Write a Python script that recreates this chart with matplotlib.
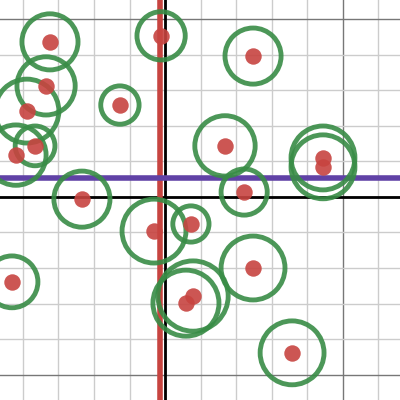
import matplotlib
matplotlib.use("Agg")
import matplotlib.pyplot as plt
from matplotlib.patches import Circle
import numpy as np

px = 35.5
xs = [-3.24,-0.11,2.48,-3.35,-3.89,-1.27,-3.66,-4.2,1.69,4.45,4.45,2.23,-2.34,-0.31,0.73,-4.31,2.48,0.79,0.59,3.58]
ys = [4.37,4.54,3.97,3.13,2.42,2.59,1.44,1.18,1.44,1.10,0.85,0.14,-0.06,-0.96,-0.76,-2.39,-2.0,-2.79,-2.99,-4.39]
radii = [0.79,0.68,0.79,0.82,0.9,0.54,0.56,0.85,0.85,0.9,0.9,0.65,0.79,0.9,0.51,0.73,0.9,0.99,0.93,0.9]
vline_x = -0.14
hline_y = 0.54

fig = plt.figure(figsize=(4,4), dpi=100)
ax = fig.add_axes([0,0,1,1])
x0, x1 = -165/px, 235/px
y0, y1 = -203/px, 197/px
ax.set_xlim(x0, x1); ax.set_ylim(y0, y1)
for v in range(-5, 8):
    c = '#777777' if v % 5 == 0 else '#cccccc'
    ax.axvline(v, color=c, lw=1, zorder=0)
for v in range(-6, 7):
    c = '#777777' if v % 5 == 0 else '#cccccc'
    ax.axhline(v, color=c, lw=1, zorder=0)
ax.axhline(0, color='black', lw=2, zorder=1)
ax.axvline(0, color='black', lw=2, zorder=1)
ax.axvline(vline_x, color='#c74440', lw=4, zorder=2)
ax.axhline(hline_y, color='#6042a6', lw=4, zorder=2)
for x, y, r in zip(xs, ys, radii):
    ax.add_patch(Circle((x, y), r, fill=False, ec='#388c46', lw=3.5, alpha=0.9, zorder=3))
ax.scatter(xs, ys, s=140, color='#c74440', alpha=0.9, zorder=4, lw=0)
ax.set_xticks([]); ax.set_yticks([])
for s in ax.spines.values(): s.set_visible(False)
fig.savefig('out.png', dpi=100)
